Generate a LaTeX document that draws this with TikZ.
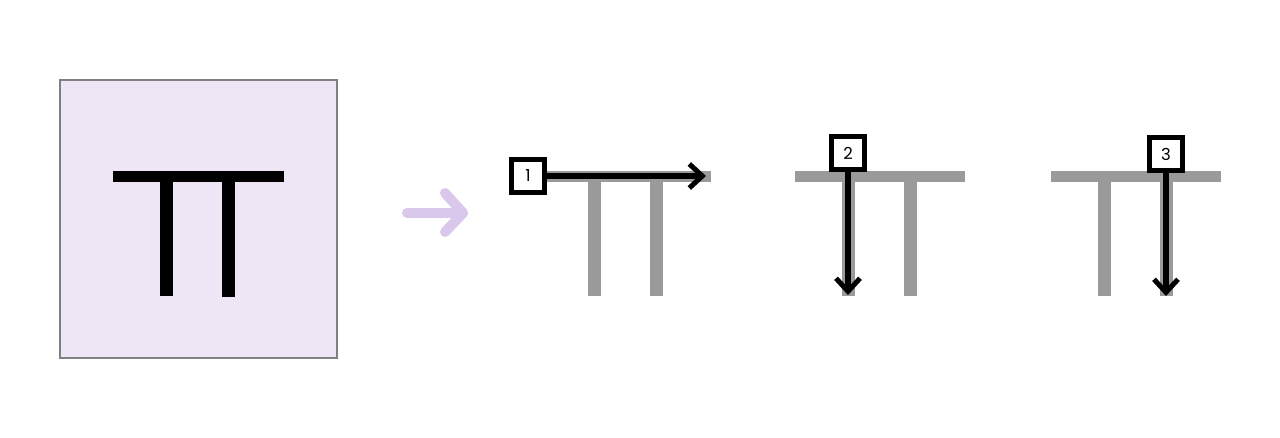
\documentclass[tikz,border=0pt]{standalone}
\usepackage{fontspec}
\newfontfamily\numfont{Poppins}
\usetikzlibrary{arrows.meta}
\definecolor{boxfill}{HTML}{EEE6F4}
\definecolor{boxline}{HTML}{808080}
\definecolor{strokegray}{HTML}{9A9A9A}
\definecolor{lilac}{HTML}{D9C8EC}
\tikzset{
  blackbar/.style={fill=black,draw=none},
  graybar/.style={fill=strokegray,draw=none},
  numbox/.style={draw=black,line width=5pt,fill=white,minimum size=33pt,inner sep=0pt,font=\numfont\fontsize{16.5pt}{16.5pt}\selectfont},
  orderarrow/.style={draw=black,line width=5.5pt,-{Straight Barb[length=13pt,width=24pt,line width=5pt]}},
  lilacarrow/.style={draw=lilac,line width=10pt,line cap=round,line join=round}
}
\newcommand{\graychar}[1]{%
  \fill[graybar] (#1,171) rectangle (#1+170,182);
  \fill[graybar] (#1+47,182) rectangle (#1+60,296);
  \fill[graybar] (#1+109,182) rectangle (#1+122,296);
}
\begin{document}
\begin{tikzpicture}[x=1pt,y=-1pt]
\useasboundingbox (0,0) rectangle (1280,438);
\fill[white] (0,0) rectangle (1280,438);
% main box
\node[draw=boxline,line width=2pt,fill=boxfill,minimum size=277pt,inner sep=0pt] (main) at (198.5,219) {};
\fill[blackbar] (113,171) rectangle (284,182);
\fill[blackbar] (160,182) rectangle (173,296);
\fill[blackbar] (222,182) rectangle (235,297);
% lilac arrow
\coordinate (la) at (407,213);
\coordinate (lb) at (463,213);
\coordinate (lt) at (445,193);
\coordinate (lbt) at (445,232);
\draw[lilacarrow] (la) -- (lb);
\draw[lilacarrow] (lt) -- (lb) -- (lbt);
% panel 1
\graychar{541}
\node[numbox] (b1) at (528,176) {1};
\coordinate (e1) at (706,176);
\draw[orderarrow] (b1.east) -- (e1);
% panel 2
\graychar{795}
\node[numbox] (b2) at (848,153) {2};
\coordinate (e2) at (848,295);
\draw[orderarrow] (b2.south) -- (e2);
% panel 3
\graychar{1051}
\node[numbox] (b3) at (1166,154) {3};
\coordinate (e3) at (1166,296);
\draw[orderarrow] (b3.south) -- (e3);
\end{tikzpicture}
\end{document}
